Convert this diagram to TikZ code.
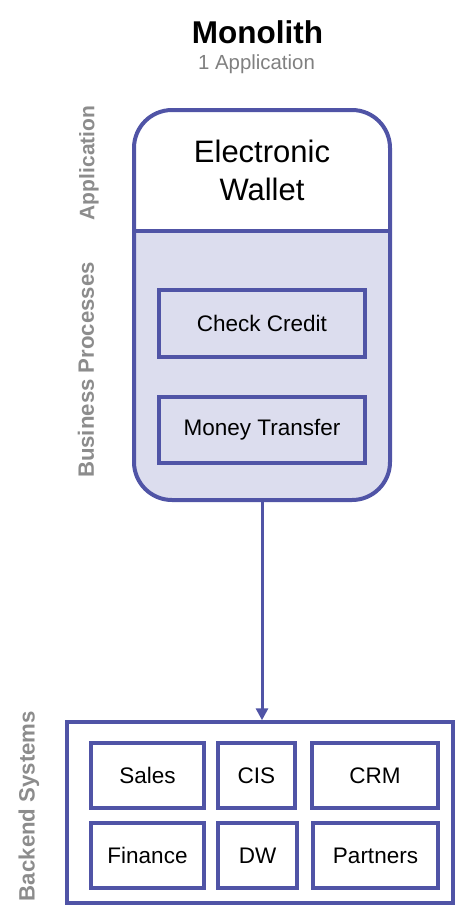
\documentclass[tikz,border=0pt]{standalone}
\usepackage{fontspec}
\setmainfont{Liberation Sans}
\usetikzlibrary{arrows.meta}
\definecolor{bline}{RGB}{80,84,166}
\definecolor{bpfill}{RGB}{220,221,238}
\definecolor{lblgray}{RGB}{140,140,140}
\definecolor{subgray}{RGB}{128,128,128}
\tikzset{
  bline/.style={draw=bline, line width=4pt},
  procbox/.style={bline, rectangle, inner sep=0pt, font=\fontsize{22.5}{26}\selectfont},
  sysbox/.style={bline, rectangle, inner sep=0pt, minimum height=65pt, fill=white, font=\fontsize{22.5}{26}\selectfont},
  sidelabel/.style={rotate=90, text=lblgray, font=\bfseries\fontsize{22.2}{26}\selectfont, inner sep=0pt},
}
\begin{document}
\begin{tikzpicture}[x=1pt, y=-1pt]
\useasboundingbox (0,0) rectangle (456,922);
% title
\node[anchor=base, font=\bfseries\fontsize{31.5}{35}\selectfont, inner sep=0pt] (title) at (257.5,43) {Monolith};
\node[anchor=base, font=\fontsize{20.4}{24}\selectfont, text=subgray, inner sep=0pt] (subtitle) at (256.5,69) {1 Application};
% application box
\begin{scope}
  \clip[rounded corners=38pt] (134,110) rectangle (390,500);
  \fill[bpfill] (134,231) rectangle (390,500);
\end{scope}
\node[bline, rectangle, rounded corners=38pt, minimum width=256pt, minimum height=390pt, inner sep=0pt] (app) at (262,305) {};
\coordinate (div) at (262,231);
\draw[bline] (app.west |- div) -- (app.east |- div);
\node[align=center, font=\fontsize{31}{38}\selectfont, inner sep=0pt] (ew) at (262,170) {Electronic\\Wallet};
\node[procbox, minimum width=206pt, minimum height=67pt] (cc) at (262,323.5) {Check Credit};
\node[procbox, minimum width=206pt, minimum height=66pt] (mt) at (262,430) {Money Transfer};
% backend box
\node[draw=bline, line width=3.5pt, rectangle, minimum width=386pt, minimum height=181pt, inner sep=0pt] (backend) at (260,812.5) {};
\node[sysbox, minimum width=113pt] (sales) at (147.5,775.5) {Sales};
\node[sysbox, minimum width=77pt] (cis) at (256.5,775.5) {CIS};
\node[sysbox, minimum width=126pt] (crm) at (375,775.5) {CRM};
\node[sysbox, minimum width=113pt] (fin) at (147.5,855.5) {Finance};
\node[sysbox, minimum width=79pt] (dw) at (257.5,855.5) {DW};
\node[sysbox, minimum width=125pt] (partners) at (375.5,855.5) {Partners};
% arrow
\draw[draw=bline, line width=3pt, -{Triangle[length=12pt, width=12pt]}] (app.south) -- (app.south |- backend.north);
% side labels
\node[sidelabel, font=\bfseries\fontsize{21}{25}\selectfont] (lapp) at (89,163) {Application};
\node[sidelabel] (lbp) at (86,370) {Business Processes};
\node[sidelabel] (lbs) at (29,806) {Backend Systems};
\end{tikzpicture}
\end{document}
